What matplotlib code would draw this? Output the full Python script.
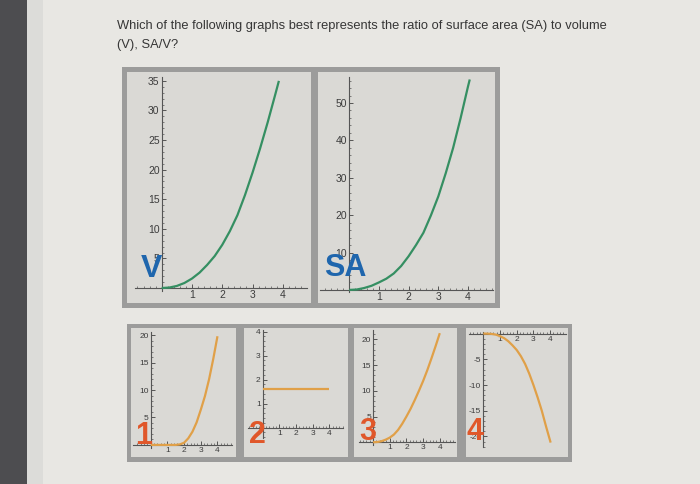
import numpy as np
import matplotlib
matplotlib.use("Agg")
import matplotlib.pyplot as plt
from matplotlib.patches import Rectangle
from matplotlib.ticker import FixedLocator

W, H = 700, 484

question_1 = "Which of the following graphs best represents the ratio of surface area (SA) to volume"
question_2 = "(V), SA/V?"

# curves
v_x = [0, 0.25, 0.5, 0.75, 1, 1.25, 1.5, 1.75, 2, 2.25, 2.5, 2.75, 3, 3.25, 3.5, 3.75, 3.87]
v_y = [0, 0.08, 0.35, 0.85, 1.6, 2.6, 3.9, 5.4, 7.3, 9.6, 12.3, 15.7, 19.5, 23.6, 28.0, 32.7, 35]

sa_x = [0, 0.25, 0.5, 0.75, 1, 1.25, 1.5, 1.75, 2, 2.25, 2.5, 2.75, 3, 3.25, 3.5, 3.75, 4, 4.06]
sa_y = [0, 0.1, 0.5, 1.1, 2.0, 3.0, 4.4, 6.4, 9.0, 12.0, 15.3, 19.9, 25.0, 31.2, 38.0, 45.9, 54.4, 56.3]

g1_x = [0, 0.5, 1, 1.5, 1.75, 2, 2.25, 2.5, 2.75, 3, 3.25, 3.5, 3.75, 4]
g1_y = [0, 0, 0, 0, 0.1, 0.4, 1.2, 2.4, 4.1, 6.4, 8.9, 12.0, 15.7, 19.8]

g2_x = [0, 4]
g2_y = [1.6, 1.6]

g3_x = [0, 0.25, 0.5, 0.75, 1, 1.25, 1.5, 1.75, 2, 2.25, 2.5, 2.75, 3, 3.25, 3.5, 3.75, 4]
g3_y = [0, 0.05, 0.2, 0.5, 0.9, 1.5, 2.4, 3.6, 5.0, 6.5, 8.2, 10.0, 11.9, 14.0, 16.3, 18.7, 21.2]

g4_x = [0, 0.25, 0.5, 0.75, 1, 1.25, 1.5, 1.75, 2, 2.25, 2.5, 2.75, 3, 3.25, 3.5, 3.75, 4.03]
g4_y = [0, -0.01, -0.06, -0.2, -0.5, -0.9, -1.5, -2.3, -3.2, -4.4, -5.9, -7.8, -10.0, -12.4, -15.0, -18.0, -21.2]

x_ticks = [1, 2, 3, 4]
v_yticks = [5, 10, 15, 20, 25, 30, 35]
sa_yticks = [10, 20, 30, 40, 50]
g1_yticks = [5, 10, 15, 20]
g2_yticks = [1, 2, 3, 4]
g3_yticks = [5, 10, 15, 20]
g4_yticks = [-5, -10, -15, -20]

BG = "#e8e7e3"
PANEL = "#dad9d5"
FRAME = "#9c9c9b"
AXC = "#555555"
GREEN = "#358f62"
ORANGE = "#e0a048"
BLUE = "#1f66ad"
RED = "#e0572a"

plt.rcParams["font.family"] = ["Liberation Sans", "DejaVu Sans"]

fig = plt.figure(figsize=(7, 4.84), dpi=100, facecolor=BG)


def box(x0, y0, x1, y1):
    return [x0 / W, 1 - y1 / H, (x1 - x0) / W, (y1 - y0) / H]


def rect(x0, y0, x1, y1, color):
    b = box(x0, y0, x1, y1)
    fig.patches.append(Rectangle((b[0], b[1]), b[2], b[3], transform=fig.transFigure,
                                 facecolor=color, edgecolor="none", zorder=-5))


# photo edge and frames
rect(0, 0, 27, H, "#4d4d50")
rect(27, 0, 43, H, "#dcdcd9")
rect(122, 67, 500, 308, FRAME)
rect(127, 324, 572, 462, FRAME)

fig.text(117 / W, 1 - 29 / H, question_1, fontsize=9.25, color="#363636", va="baseline")
fig.text(117 / W, 1 - 48 / H, question_2, fontsize=9.25, color="#363636", va="baseline")


def panel(b, xlim, ylim, xb, yb, xs, ys, yticks, yminor, color, fs, lw):
    ax = fig.add_axes(box(*b))
    ax.set_facecolor(PANEL)
    ax.set_xlim(*xlim)
    ax.set_ylim(*ylim)
    for s in ("top", "right"):
        ax.spines[s].set_visible(False)
    for s in ("left", "bottom"):
        ax.spines[s].set_position(("data", 0))
        ax.spines[s].set_color(AXC)
        ax.spines[s].set_linewidth(0.8)
    ax.spines["bottom"].set_bounds(*xb)
    ax.spines["left"].set_bounds(*yb)
    ax.plot(xs, ys, color=color, lw=lw, solid_capstyle="butt", zorder=3)
    ax.set_xticks(x_ticks)
    ax.set_xticklabels([str(t) for t in x_ticks])
    ax.set_yticks(yticks)
    ax.set_yticklabels([str(t) for t in yticks])
    ax.xaxis.set_minor_locator(FixedLocator([t for t in np.arange(-4, 26) * 0.2 if xb[0] <= t <= xb[1]]))
    ax.yaxis.set_minor_locator(FixedLocator([t for t in np.arange(-40, 70) * yminor if yb[0] <= t <= yb[1]]))
    ax.tick_params(which="major", direction="in", length=3, width=0.7, color=AXC,
                   labelsize=fs, labelcolor="#3c3c3c", pad=1.5)
    ax.tick_params(which="minor", direction="in", length=1.6, width=0.5, color=AXC)
    return ax


panel((127, 72, 311, 303), (-1.145, 4.93), (-2.53, 36.5), (-0.88, 4.8), (-0.5, 35.7),
      v_x, v_y, v_yticks, 1, GREEN, 7.5, 1.6)
panel((318, 72, 495, 303), (-1.05, 4.91), (-3.5, 58.3), (-0.99, 4.84), (-0.5, 57),
      sa_x, sa_y, sa_yticks, 2, GREEN, 7.5, 1.6)
panel((131, 328, 236, 457), (-1.18, 5.11), (-2.2, 21.3), (-1.06, 4.86), (-0.5, 20.6),
      g1_x, g1_y, g1_yticks, 1, ORANGE, 6, 1.6)
panel((244, 328, 348, 457), (-1.12, 5.11), (-1.22, 4.15), (-0.86, 4.83), (-0.43, 4.07),
      g2_x, g2_y, g2_yticks, 0.2, ORANGE, 6, 1.6)
panel((354, 328, 457, 457), (-1.14, 5.03), (-2.86, 22.2), (-0.86, 4.9), (-0.5, 21.8),
      g3_x, g3_y, g3_yticks, 1, ORANGE, 6, 1.6)
panel((466, 328, 568, 457), (-1.04, 5.07), (-24.0, 1.09), (-0.84, 4.96), (-22.1, 0.3),
      g4_x, g4_y, g4_yticks, 1, ORANGE, 6, 1.6)

# big panel letters
for s, x, y, c, fs in [("V", 151.5, 269, BLUE, 23), ("SA", 345, 268, BLUE, 22),
                       ("1", 144, 436.5, RED, 22), ("2", 257.5, 435, RED, 22),
                       ("3", 367.5, 432.5, RED, 22), ("4", 475, 432.5, RED, 22)]:
    fig.text(x / W, 1 - y / H, s, fontsize=fs, color=c, ha="center", va="center",
             fontweight="bold", zorder=5)

fig.savefig("out.png", dpi=100, facecolor=BG)
